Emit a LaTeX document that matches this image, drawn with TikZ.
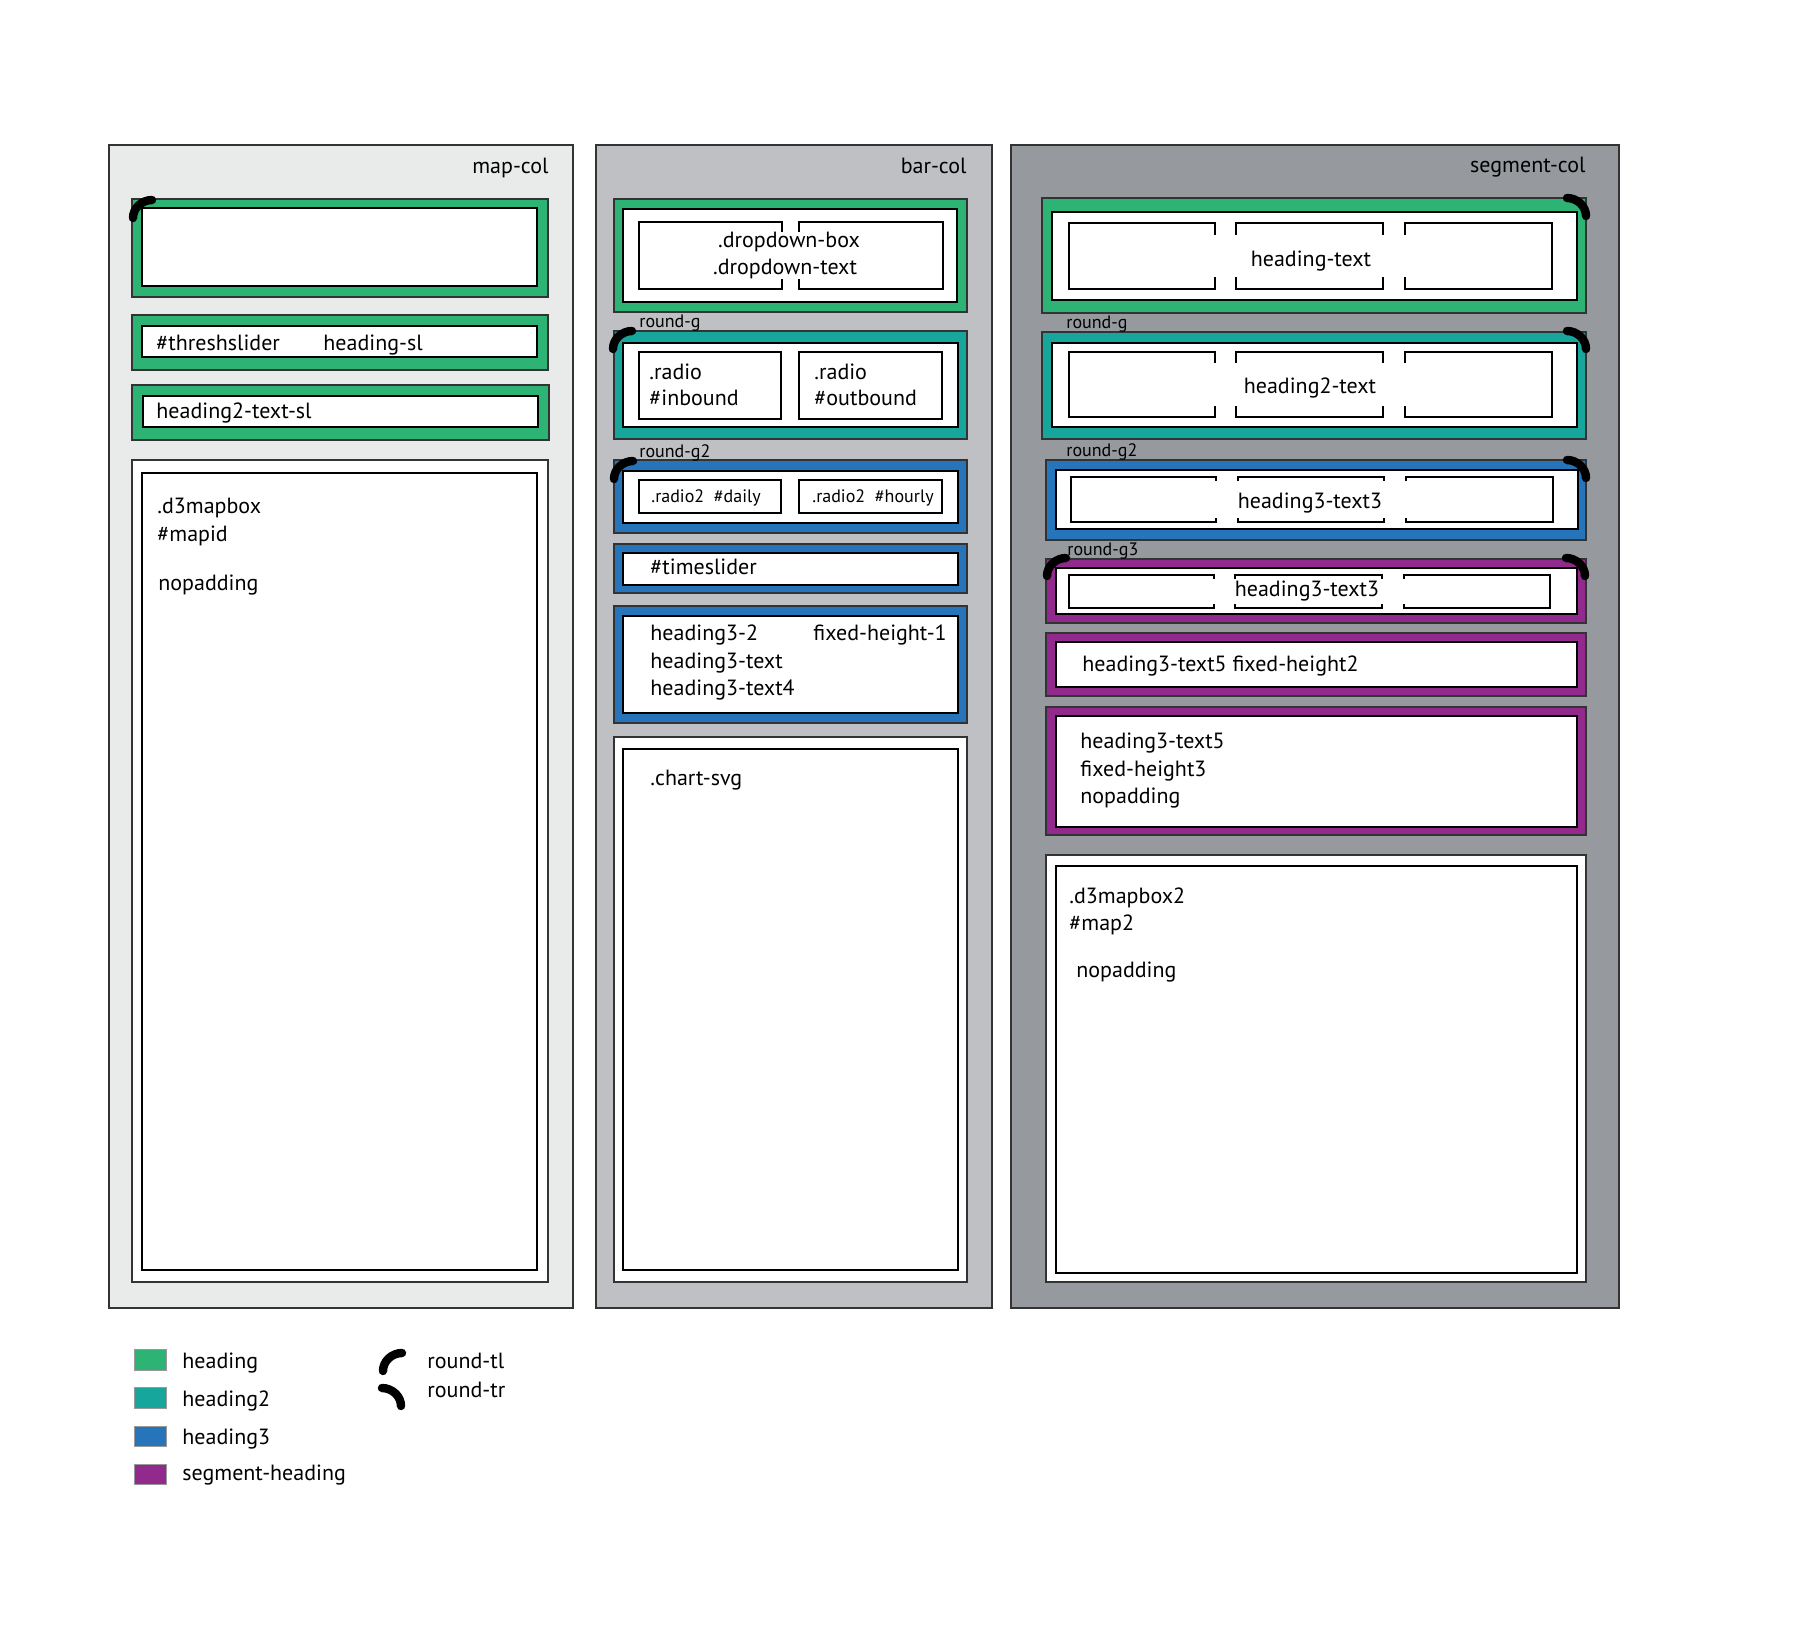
\documentclass[tikz,border=0pt]{standalone}
\usepackage{fontspec}
\setmainfont{PT Sans}
\definecolor{MapGray}{RGB}{233,235,234}
\definecolor{BarGray}{RGB}{191,192,195}
\definecolor{SegGray}{RGB}{150,153,157}
\definecolor{HeadGreen}{RGB}{45,179,115}
\definecolor{HeadTeal}{RGB}{22,166,155}
\definecolor{HeadBlue}{RGB}{38,116,185}
\definecolor{SegPurple}{RGB}{146,41,140}
\newcommand{\roundtl}[2]{\draw[rmark] (#1,{#2+18}) .. controls (#1,{#2+8}) and ({#1+9},#2) .. ({#1+19},#2);}
\newcommand{\roundtr}[2]{\draw[rmark] ({#1-19},#2) .. controls ({#1-9},#2) and (#1,{#2+8}) .. (#1,{#2+18});}
\newcommand{\boxL}[5]{\draw[subbox] (#3,{#2+#5}) -- (#3,#2) -- (#1,#2) -- (#1,#4) -- (#3,#4) -- (#3,{#4-#5});}
\newcommand{\boxM}[5]{\draw[subbox] (#1,{#2+#5}) -- (#1,#2) -- (#3,#2) -- (#3,{#2+#5}) (#1,{#4-#5}) -- (#1,#4) -- (#3,#4) -- (#3,{#4-#5});}
\newcommand{\boxR}[5]{\draw[subbox] (#1,{#2+#5}) -- (#1,#2) -- (#3,#2) -- (#3,#4) -- (#1,#4) -- (#1,{#4-#5});}

\begin{document}
\begin{tikzpicture}[x=0.5pt,y=-0.5pt,
  colbox/.style={draw=black!80,line width=1pt},
  headbox/.style={draw=black!80,line width=0.8pt},
  inbox/.style={draw=black,fill=white,line width=1.4pt},
  subbox/.style={draw=black,line width=1.2pt},
  rmark/.style={line width=4.2pt,line cap=round},
  lbl/.style={anchor=base west,inner sep=0pt,font=\fontsize{11}{13}\selectfont},
  tag/.style={anchor=base west,inner sep=0pt,font=\fontsize{9}{11}\selectfont}
]
\fill[white] (0,0) rectangle (1800,1650);
\useasboundingbox (0,0) rectangle (1800,1650);

% columns
\draw[colbox,fill=MapGray] (109,145) rectangle (573,1308);
\draw[colbox,fill=BarGray] (596,145) rectangle (992,1308);
\draw[colbox,fill=SegGray] (1011,145) rectangle (1619,1308);
\node[lbl,anchor=base east] (mapcol) at (549,173) {map-col};
\node[lbl,anchor=base east] (barcol) at (967,173) {bar-col};
\node[lbl,anchor=base east] (segcol) at (1586,172) {segment-col};

% map-col
\draw[headbox,fill=HeadGreen] (132,199) rectangle (548,297);
\draw[inbox] (142,208) rectangle (537,286);
\draw[headbox,fill=HeadGreen] (132,315) rectangle (548,370);
\draw[inbox] (142,326) rectangle (537,357);
\draw[headbox,fill=HeadGreen] (132,385) rectangle (549,440);
\draw[inbox] (143,396) rectangle (538,427);
\draw[headbox,fill=white] (132,460) rectangle (548,1282);
\draw[inbox] (142,473) rectangle (537,1270);
\roundtl{133}{200}
\node[lbl] (thresh) at (156,350) {\#threshslider};
\node[lbl] (headsl) at (323,350) {heading-sl};
\node[lbl] (head2sl) at (156,418) {heading2-text-sl};
\node[lbl] (mapbox) at (157,513) {.d3mapbox};
\node[lbl] (mapid) at (157,541) {\#mapid};
\node[lbl] (mapnopad) at (158,590) {nopadding};

% bar-col
\draw[headbox,fill=HeadGreen] (614,199) rectangle (967,312);
\draw[inbox] (623,209) rectangle (957,302);
\boxL{639}{222}{782}{289}{10}
\boxR{799}{222}{943}{289}{10}
\node[lbl,anchor=base] (ddbox) at (789,247) {.dropdown-box};
\node[lbl,anchor=base] (ddtext) at (785,274) {.dropdown-text};

\draw[headbox,fill=HeadTeal] (614,331) rectangle (967,439);
\draw[inbox] (623,343) rectangle (958,427);
\draw[subbox,line width=1.4pt] (639,352) rectangle (781,419);
\draw[subbox,line width=1.4pt] (799,352) rectangle (942,419);
\roundtl{613}{331}
\node[tag] (roundg) at (639,327) {round-g};
\node[lbl] (radioa) at (649,379) {.radio};
\node[lbl] (inbound) at (649,405) {\#inbound};
\node[lbl] (radiob) at (814,379) {.radio};
\node[lbl] (outbound) at (814,405) {\#outbound};

\draw[headbox,fill=HeadBlue] (614,460) rectangle (967,533);
\draw[inbox] (623,471) rectangle (958,523);
\draw[subbox,line width=1pt] (639,480) rectangle (781,513);
\draw[subbox,line width=1pt] (799,480) rectangle (942,513);
\roundtl{614}{461}
\node[tag] (roundgb) at (639,457) {round-g2};
\node[tag] (daily) at (651,502) {.radio2\ \ \#daily};
\node[tag] (hourly) at (812,502) {.radio2\ \ \#hourly};

\draw[headbox,fill=HeadBlue] (614,544) rectangle (967,593);
\draw[inbox] (623,553) rectangle (958,585);
\node[lbl] (timesl) at (650,574) {\#timeslider};

\draw[headbox,fill=HeadBlue] (614,606) rectangle (967,723);
\draw[inbox] (623,616) rectangle (958,713);
\node[lbl] (hthreetwo) at (650,640) {heading3-2};
\node[lbl] (fixedone) at (813,640) {fixed-height-1};
\node[lbl] (hthreetext) at (650,668) {heading3-text};
\node[lbl] (hthreetextd) at (650,695) {heading3-text4};

\draw[headbox,fill=white] (614,737) rectangle (967,1282);
\draw[inbox] (623,749) rectangle (958,1270);
\node[lbl] (chart) at (650,785) {.chart-svg};

% segment-col
\draw[headbox,fill=HeadGreen] (1042,198) rectangle (1586,313);
\draw[inbox] (1052,212) rectangle (1577,300);
\boxL{1069}{223}{1215}{289}{12}
\boxM{1236}{223}{1383}{289}{12}
\boxR{1405}{223}{1552}{289}{12}
\roundtr{1586}{198}
\node[lbl,anchor=base] (seghead) at (1311,266) {heading-text};

\draw[headbox,fill=HeadTeal] (1042,332) rectangle (1586,439);
\draw[inbox] (1052,343) rectangle (1577,427);
\boxL{1069}{352}{1215}{417}{11}
\boxM{1236}{352}{1383}{417}{11}
\boxR{1405}{352}{1552}{417}{11}
\roundtr{1586}{331}
\node[tag] (segroundg) at (1066,328) {round-g};
\node[lbl,anchor=base] (segheadb) at (1310,393) {heading2-text};

\draw[headbox,fill=HeadBlue] (1046,460) rectangle (1586,540);
\draw[inbox] (1056,470) rectangle (1578,529);
\boxL{1071}{477}{1216}{522}{4}
\boxM{1238}{477}{1384}{522}{4}
\boxR{1406}{477}{1553}{522}{4}
\roundtr{1586}{460}
\node[tag] (segroundgb) at (1066,456) {round-g2};
\node[lbl,anchor=base] (segheadc) at (1310,508) {heading3-text3};

\draw[headbox,fill=SegPurple] (1046,559) rectangle (1586,623);
\draw[inbox] (1056,568) rectangle (1577,614);
\boxL{1069}{575}{1214}{608}{4}
\boxM{1235}{575}{1382}{608}{4}
\boxR{1404}{575}{1550}{608}{4}
\roundtl{1047}{558}
\roundtr{1585}{558}
\node[tag] (segroundgc) at (1067,555) {round-g3};
\node[lbl,anchor=base] (segheadd) at (1307,596) {heading3-text3};

\draw[headbox,fill=SegPurple] (1046,633) rectangle (1586,696);
\draw[inbox] (1056,642) rectangle (1577,687);
\node[lbl] (textfive) at (1082,671) {heading3-text5 fixed-height2};

\draw[headbox,fill=SegPurple] (1046,707) rectangle (1586,835);
\draw[inbox] (1056,716) rectangle (1577,827);
\node[lbl] (textfiveb) at (1080,748) {heading3-text5};
\node[lbl] (fixedthree) at (1080,776) {fixed-height3};
\node[lbl] (segnopad) at (1080,803) {nopadding};

\draw[headbox,fill=white] (1046,855) rectangle (1586,1282);
\draw[inbox] (1056,866) rectangle (1577,1273);
\node[lbl] (mapboxb) at (1069,903) {.d3mapbox2};
\node[lbl] (mapb) at (1069,930) {\#map2};
\node[lbl] (mapbnopad) at (1076,977) {nopadding};

% legend
\draw[draw=black!40,fill=HeadGreen] (134,1349) rectangle (166,1370);
\draw[draw=black!40,fill=HeadTeal] (134,1387) rectangle (166,1408);
\draw[draw=black!40,fill=HeadBlue] (134,1426) rectangle (166,1446);
\draw[draw=black!40,fill=SegPurple] (134,1464) rectangle (166,1484);
\node[lbl] (lgheading) at (182,1368) {heading};
\node[lbl] (lgheadingb) at (182,1406) {heading2};
\node[lbl] (lgheadingc) at (182,1444) {heading3};
\node[lbl] (lgsegment) at (182,1480) {segment-heading};
\roundtl{383}{1353}
\roundtr{401}{1388}
\node[lbl] (lgtl) at (427,1368) {round-tl};
\node[lbl] (lgtr) at (427,1397) {round-tr};
\end{tikzpicture}
\end{document}
